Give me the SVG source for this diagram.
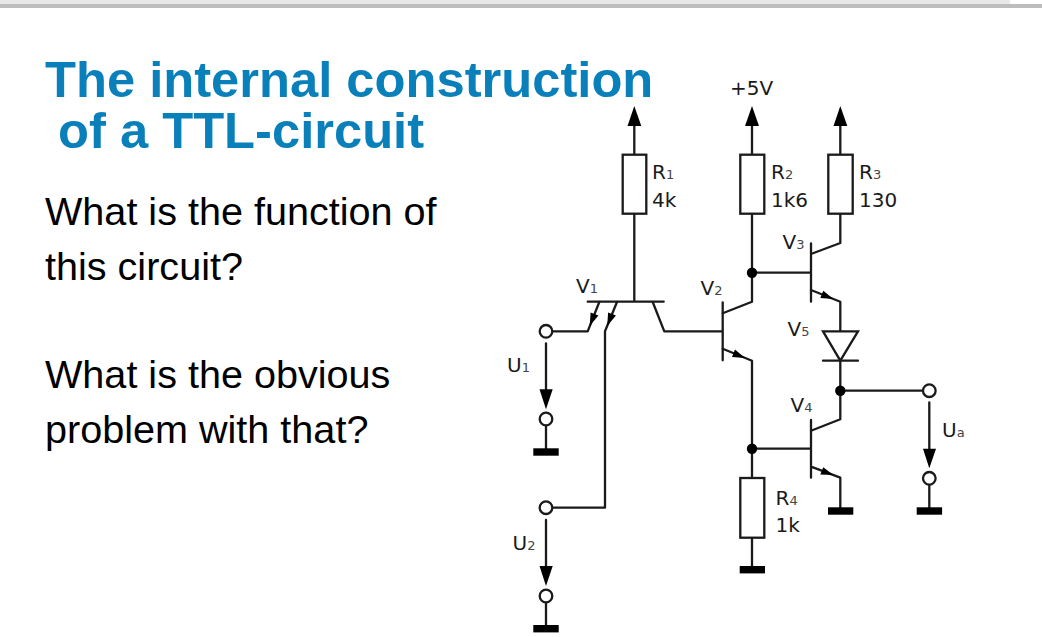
<svg xmlns="http://www.w3.org/2000/svg" width="1042" height="637" viewBox="0 0 1042 637">
<style>
.w{fill:none;stroke:#1a1a1a;stroke-width:2.3;stroke-linecap:round;stroke-linejoin:round}
.b{fill:#fff;stroke:#1a1a1a;stroke-width:2.3}
.f{fill:#000}
.t{font-family:"Liberation Sans",Arial,sans-serif;font-size:39.6px;fill:#000}
.h{font-family:"Liberation Sans",Arial,sans-serif;font-size:50.7px;font-weight:700;fill:#0a80bb}
.l{font-family:"DejaVu Sans",sans-serif;font-size:20px;fill:#1a1a1a}
.s{font-size:13px;fill:#444}
</style>
<rect width="1010" height="4" fill="#e8e8e8"/>
<rect y="4" width="1042" height="4" fill="#bdbdbd"/>
<g id="title">
<text class="h" x="45" y="97">The internal construction</text>
<text class="h" x="58" y="148">of a TTL-circuit</text>
</g>
<g id="body">
<text class="t" x="45" y="225">What is the function of</text>
<text class="t" x="45" y="280">this circuit?</text>
<text class="t" x="45" y="388">What is the obvious</text>
<text class="t" x="45" y="443">problem with that?</text>
</g>
<g id="connectors">
<path class="w" d="M634.3 126V154.7M634.3 213.7V301.7M587.7 301.7H663.7"/>
<path class="w" d="M599.3 302L587.7 331.3H552.3M617 302L605 331.3V507.7H552.3"/>
<path class="w" d="M652.7 302L664.3 331.3H722.7M722.7 302.3V360.3"/>
<path class="w" d="M752 126V154.7M752 213.7V301.7L722.7 313.3M722.7 348.7L752 360.7V478M752 537.7V566"/>
<path class="w" d="M752 272.7H811M811 243.3V301.7M811 254L840.3 243V213.7M840.3 154.7V126"/>
<path class="w" d="M811 290L840.3 301.7V331.3M840.3 360.7V419.3L811 430.7"/>
<path class="w" d="M840.3 390.7H923M752 448.7H811M811 420V477.7M811 466.7L840.3 477.7V508"/>
<path class="w" d="M546 343.3V392M546 425.3V449M546 520V569M546 602.3V626M929.3 402.3V452M929.3 484.6V508"/>
</g>
<g id="arrowheads">
<path class="f" d="M634.3 106L641.3 126H627.5Z"/>
<path class="f" d="M752 106L759 126H745Z"/>
<path class="f" d="M840.3 106L847.3 126H833.5Z"/>
<path class="f" d="M546 409.3L552.7 389.3H539.5Z"/>
<path class="f" d="M546 586L552.7 566H539.5Z"/>
<path class="f" d="M929.3 468.3L936 448.7H923Z"/>
<path class="f" d="M589.8 326L590.6 312.5L598.4 315.5Z"/>
<path class="f" d="M607.3 326L608.1 312.5L615.9 315.5Z"/>
<path class="f" d="M745 358L732 356.9L735 349.5Z"/>
<path class="f" d="M833.3 299L820.3 298.1L823.3 290.7Z"/>
<path class="f" d="M833.3 475L820.3 474.6L823.3 467.2Z"/>
</g>
<g id="R1"><rect class="b" x="622.7" y="154.7" width="23.6" height="59"/><text class="l" x="652" y="179">R<tspan class="s">1</tspan></text><text class="l" x="652" y="206.5">4k</text></g>
<g id="R2"><rect class="b" x="740.3" y="154.7" width="24" height="59"/><text class="l" x="771" y="179">R<tspan class="s">2</tspan></text><text class="l" x="771" y="206.5">1k6</text></g>
<g id="R3"><rect class="b" x="828.3" y="154.7" width="24.4" height="59"/><text class="l" x="859" y="179">R<tspan class="s">3</tspan></text><text class="l" x="859" y="206.5">130</text></g>
<g id="R4"><rect class="b" x="740.3" y="478" width="24" height="59.7"/><text class="l" x="775.5" y="505">R<tspan class="s">4</tspan></text><text class="l" x="775.5" y="531.5">1k</text></g>
<g id="V1"><text class="l" x="576" y="292.5">V<tspan class="s">1</tspan></text></g>
<g id="V2"><text class="l" x="700.5" y="295">V<tspan class="s">2</tspan></text></g>
<g id="V3"><text class="l" x="782.5" y="248.5">V<tspan class="s">3</tspan></text></g>
<g id="V4"><text class="l" x="790.5" y="411.5">V<tspan class="s">4</tspan></text></g>
<g id="V5"><text class="l" x="787.5" y="336">V<tspan class="s">5</tspan></text><path class="b" d="M823 331.3H858L840.3 360.7Z"/><path class="w" d="M823 360.7H858"/></g>
<g id="plus5v"><text class="l" x="730" y="95">+5V</text></g>
<g id="U1"><circle class="b" cx="546" cy="331.3" r="6.3"/><circle class="b" cx="546" cy="419" r="6.3"/><rect class="f" x="533.3" y="448.3" width="25.4" height="7.4"/><text class="l" x="507" y="372">U<tspan class="s">1</tspan></text></g>
<g id="U2"><circle class="b" cx="546" cy="507.7" r="6.3"/><circle class="b" cx="546" cy="596" r="6.3"/><rect class="f" x="533.3" y="625" width="25.4" height="7.4"/><text class="l" x="512.5" y="549.5">U<tspan class="s">2</tspan></text></g>
<g id="Ua"><circle class="b" cx="929.3" cy="390.7" r="6.3"/><circle class="b" cx="929.3" cy="478.3" r="6.3"/><rect class="f" x="916.7" y="507.3" width="25.4" height="7.4"/><text class="l" x="942" y="437">U<tspan class="s">a</tspan></text></g>
<g id="grounds"><rect class="f" x="828" y="507.3" width="25.3" height="7.4"/><rect class="f" x="739.7" y="566" width="25.3" height="7.4"/></g>
<g id="junctions"><circle class="f" cx="752" cy="272.7" r="5.2"/><circle class="f" cx="752" cy="448.7" r="5.2"/><circle class="f" cx="840.3" cy="390.7" r="5.2"/></g>
</svg>
